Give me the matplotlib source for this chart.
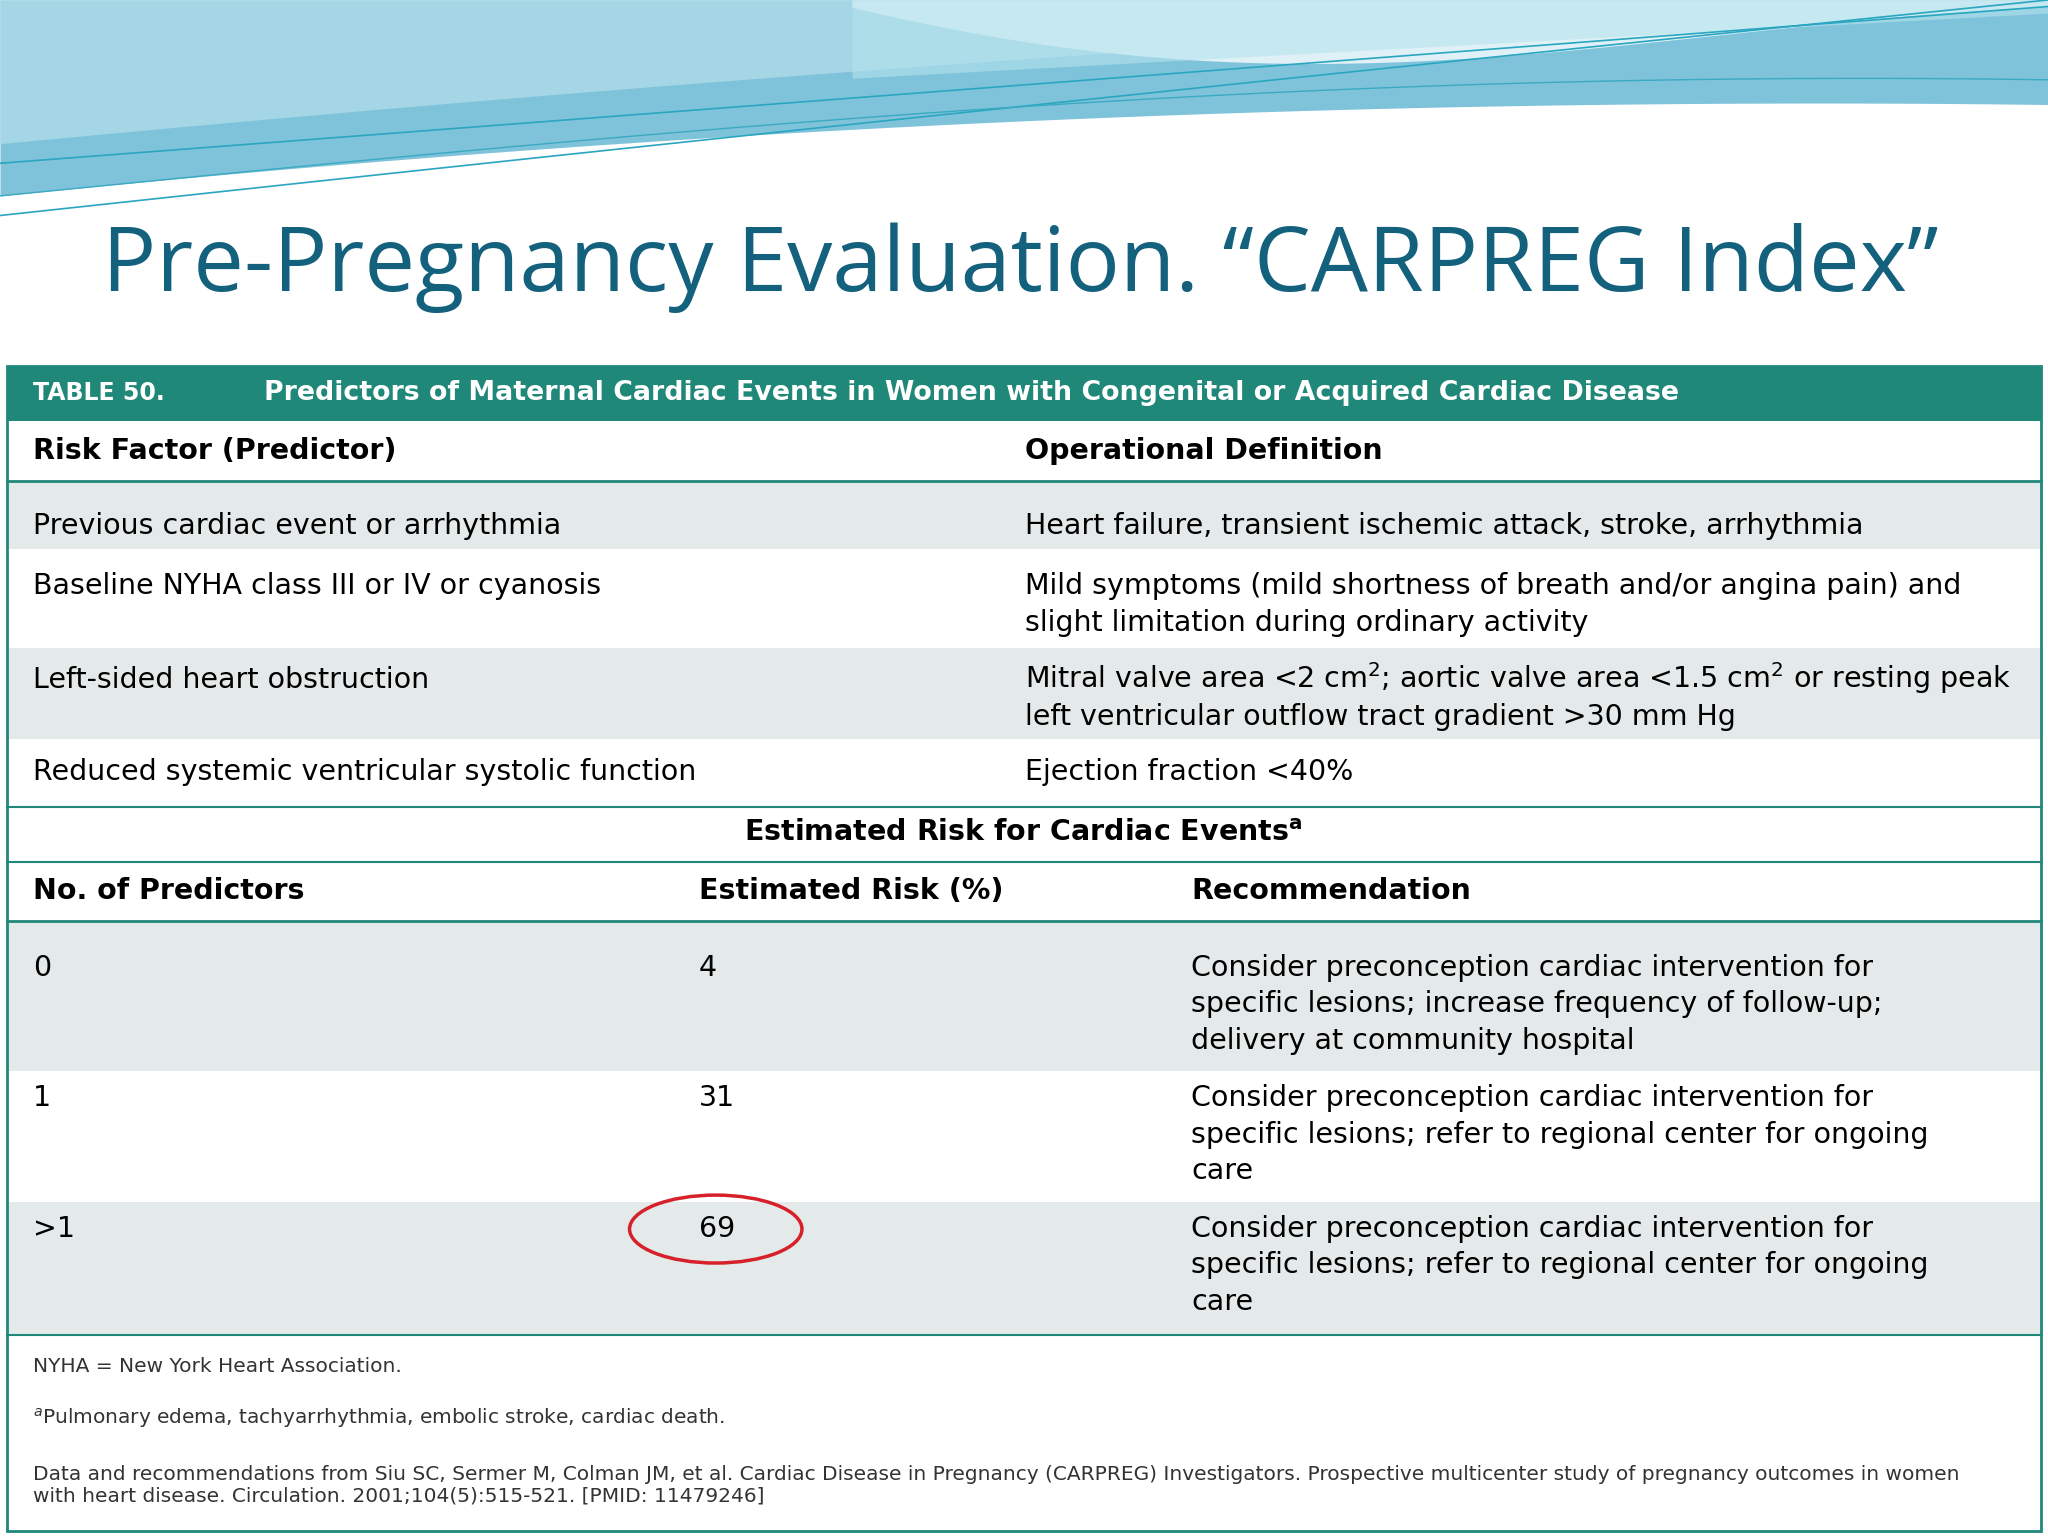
import matplotlib
matplotlib.use("Agg")
import matplotlib.pyplot as plt
from matplotlib.patches import Rectangle, Ellipse
import numpy as np

title = "Pre-Pregnancy Evaluation. \u201cCARPREG Index\u201d"
table_title = "Predictors of Maternal Cardiac Events in Women with Congenital or Acquired Cardiac Disease"
risk_factors = ["Previous cardiac event or arrhythmia",
                "Baseline NYHA class III or IV or cyanosis",
                "Left-sided heart obstruction",
                "Reduced systemic ventricular systolic function"]
definitions = ["Heart failure, transient ischemic attack, stroke, arrhythmia",
               "Mild symptoms (mild shortness of breath and/or angina pain) and\nslight limitation during ordinary activity",
               "Mitral valve area <2 cm$^2$; aortic valve area <1.5 cm$^2$ or resting peak\nleft ventricular outflow tract gradient >30 mm Hg",
               "Ejection fraction <40%"]
predictors = ["0", "1", ">1"]
risks = ["4", "31", "69"]
recommendations = ["Consider preconception cardiac intervention for\nspecific lesions; increase frequency of follow-up;\ndelivery at community hospital",
                   "Consider preconception cardiac intervention for\nspecific lesions; refer to regional center for ongoing\ncare",
                   "Consider preconception cardiac intervention for\nspecific lesions; refer to regional center for ongoing\ncare"]
footnotes = ["NYHA = New York Heart Association.",
             "$^a$Pulmonary edema, tachyarrhythmia, embolic stroke, cardiac death.",
             "Data and recommendations from Siu SC, Sermer M, Colman JM, et al. Cardiac Disease in Pregnancy (CARPREG) Investigators. Prospective multicenter study of pregnancy outcomes in women\nwith heart disease. Circulation. 2001;104(5):515-521. [PMID: 11479246]"]

fig = plt.figure(figsize=(20.48, 15.36), dpi=100)
ax = fig.add_axes([0, 0, 1, 1])
ax.set_xlim(0, 1568); ax.set_ylim(1176, 0); ax.axis("off")

# decorative waves
x = np.linspace(0, 1568, 400)
t = x / 1568
ax.fill_between(x, 0, 150 - 160*t + 90*t**2, color="#7fc3da", lw=0)
ax.fill_between(x, 0, 110 - 150*t + 40*t**2, where=(110 - 150*t + 40*t**2) > 0, color="#a5d6e6", lw=0)
right = (x > 650)
ax.fill_between(x[right], 0, 110*np.sin(np.pi*(x[right]-650)/1100)*(1-t[right])*1.3 + 5, color="#dff1f6", lw=0)
ax.fill_between(x[right], 0, 60 - 50*((x[right]-650)/918), color="#b5e3ee", lw=0, alpha=0.6)
ax.plot(x, 165 - 170*t + 5*t**2, color="#2aa6c0", lw=1.2)
ax.plot(x, 150 - 90*np.sin(np.pi*t*0.55), color="#3aa9c2", lw=1)
ax.plot(x, 125 - 120*t, color="#2aa6c0", lw=1.2)

ax.text(781, 205, title, fontsize=65, color="#14617e", ha="center", va="center", family="Open Sans")

fs = 20.5
L, R = 5, 1563
ax.add_patch(Rectangle((L, 280), R-L, 42, color="#1f8878", lw=0))
ax.text(25, 301, "TABLE 50.", color="white", fontsize=17, weight="bold", va="center", family="DejaVu Sans")
ax.text(202, 301, table_title, color="white", fontsize=19.3, weight="bold", va="center")

def hline(y, lw=1.5):
    ax.plot([L, R], [y, y], color="#1f8878", lw=lw)

ax.text(25, 345, "Risk Factor (Predictor)", fontsize=fs, weight="bold", va="center")
ax.text(785, 345, "Operational Definition", fontsize=fs, weight="bold", va="center")
rows = [(368, 420), (420, 496), (496, 566), (566, 618)]
base1 = [409, 455, 527, 597]
for i, ((y0, y1), b, rf, d) in enumerate(zip(rows, base1, risk_factors, definitions)):
    if i % 2 == 0:
        ax.add_patch(Rectangle((L, y0), R-L, y1-y0, color="#e4eaea", lw=0))
    ax.text(25, b, rf, fontsize=fs, va="baseline")
    for k, ln in enumerate(d.split("\n")):
        ax.text(785, b + 28*k, ln, fontsize=fs, va="baseline")
hline(368, 2); hline(618, 1.5)
ax.text(783, 638, "Estimated Risk for Cardiac Events$^{\\mathbf{a}}$", fontsize=fs, weight="bold", ha="center", va="center")
hline(660, 1.5)
ax.text(25, 682, "No. of Predictors", fontsize=fs, weight="bold", va="center")
ax.text(535, 682, "Estimated Risk (%)", fontsize=fs, weight="bold", va="center")
ax.text(912, 682, "Recommendation", fontsize=fs, weight="bold", va="center")
rows2 = [(705, 820), (820, 920), (920, 1022)]
base2 = [747, 847, 947]
for i, ((y0, y1), b, p, r, rec) in enumerate(zip(rows2, base2, predictors, risks, recommendations)):
    if i % 2 == 0:
        ax.add_patch(Rectangle((L, y0), R-L, y1-y0, color="#e4eaea", lw=0))
    ax.text(25, b, p, fontsize=fs, va="baseline")
    ax.text(535, b, r, fontsize=fs, va="baseline")
    for k, ln in enumerate(rec.split("\n")):
        ax.text(912, b + 28*k, ln, fontsize=fs, va="baseline")
hline(705, 2); hline(1022, 1.5)
ax.add_patch(Ellipse((548, 941), 132, 52, fill=False, ec="#d6202a", lw=2.5))

ax.text(25, 1046, footnotes[0], fontsize=14.5, va="center", color="#333333")
ax.text(25, 1086, footnotes[1], fontsize=14.5, va="center", color="#333333")
ax.text(25, 1137, footnotes[2], fontsize=14.5, va="center", color="#333333", linespacing=1.2)

ax.add_patch(Rectangle((L, 280), R-L, 1172-280, fill=False, ec="#1f8878", lw=2))

fig.savefig("out.png", dpi=100)
